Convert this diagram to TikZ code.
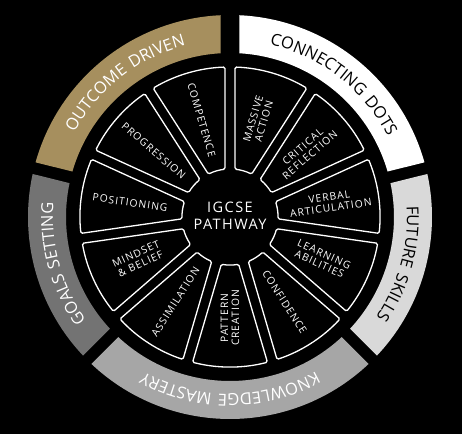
\documentclass[tikz,border=0pt]{standalone}
\usepackage{fontspec}
\setmainfont{Open Sans}[LetterSpace=10]
\usetikzlibrary{decorations.text}
\definecolor{bandgold}{HTML}{A68F5E}
\definecolor{bandlight}{HTML}{D9D9D9}
\definecolor{bandmid}{HTML}{A6A6A6}
\definecolor{banddark}{HTML}{737373}
\newcommand{\bandfont}{\fontsize{16.5}{16.5}\selectfont}
\begin{document}
\begin{tikzpicture}[x=1pt, y=1pt, every node/.style = {text=white, align=center, inner sep=0pt}]
	\tikzset{ segment/.style = {draw=white, line width=1.3pt, rounded corners=1.5pt, fill=black},
		seglabel/.style = {font=\fontsize{10.3}{11}\selectfont},
		hub/.style = {font=\fontsize{14.5}{16.5}\selectfont} }
	\fill[black] (-230,-217) rectangle (232,217);
	% outer bands: from/to angle, half gaps, fill, label, label colour
	\foreach \from/\to/\ga/\gb/\col/\txt/\tcol in {
			166/90/6/9.5/bandgold/Outcome Driven/white,
			90/14/9.5/6/white/Connecting Dots/black,
			14/-45/6/6/bandlight/Future Skills/black,
			-45/-135/6/6/bandmid/Knowledge Mastery/white,
			225/166/6/6/banddark/Goals Setting/white} {
		\pgfmathsetmacro\ao{\from-asin(\ga/202)}
		\pgfmathsetmacro\ai{\from-asin(\ga/164)}
		\pgfmathsetmacro\bo{\to+asin(\gb/202)}
		\pgfmathsetmacro\bi{\to+asin(\gb/164)}
		\fill[\col] (\ao:202) arc[start angle=\ao, end angle=\bo, radius=202]
			-- (\bi:164) arc[start angle=\bi, end angle=\ai, radius=164] -- cycle;
		\edef\tmp{\txt}
		\uppercase\expandafter{\expandafter\def\expandafter\uptxt\expandafter{\tmp}}
		\path[decorate, decoration={text along path, text align=center, text color=\tcol,
				text/.expanded={|\noexpand\bandfont|\uptxt}}]
			(\from:177) arc[start angle=\from, end angle=\to, radius=177];
	}
	% inner segments: centre angle, text rotation, label
	\foreach \c/\r/\lbl [count=\i] in {
			270/90/{Pattern\\Creation},
			302.73/-57.27/Confidence,
			335.45/-24.55/{Learning\\Abilities},
			8.18/8.18/{Verbal\\Articulation},
			40.91/40.91/{Critical\\Reflection},
			73.64/73.64/{Massive\\Action},
			106.36/-73.64/Competence,
			139.09/-40.91/Progression,
			171.82/-8.18/Positioning,
			204.55/24.55/{Mindset\\\& Belief},
			237.27/57.27/Assimilation} {
		\pgfmathsetmacro\ao{\c-16.364+asin(5/150)}
		\pgfmathsetmacro\bo{\c+16.364-asin(5/150)}
		\pgfmathsetmacro\ai{\c-16.364+asin(5/48)}
		\pgfmathsetmacro\bi{\c+16.364-asin(5/48)}
		\draw[segment] (\ao:150) arc[start angle=\ao, end angle=\bo, radius=150]
			-- (\bi:48) arc[start angle=\bi, end angle=\ai, radius=48] -- cycle;
		\node[seglabel, rotate=\r] (seg\i) at (\c:101) {\uppercase\expandafter{\lbl}};
	}
	\node[hub] (hub) at (0,1) {\uppercase{igcse\\pathway}};
\end{tikzpicture}
\end{document}
